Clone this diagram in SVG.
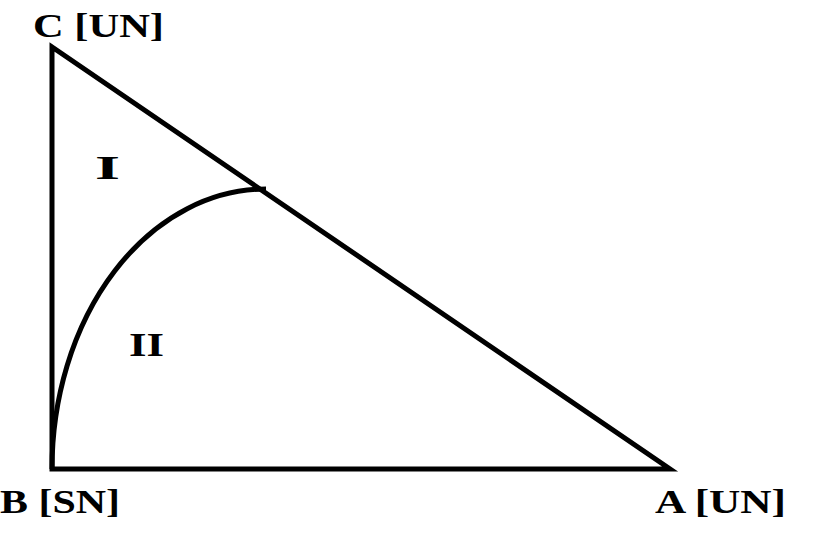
<svg xmlns="http://www.w3.org/2000/svg" width="828" height="536" viewBox="0 0 828 536">
<style>
.ln{fill:none;stroke:#000;stroke-width:5;stroke-linejoin:miter;stroke-miterlimit:10}
.lb{font-family:"Liberation Serif","Times New Roman",serif;font-weight:bold;font-size:34px;fill:#000}
</style>
<rect width="828" height="536" fill="#fff"/>
<g id="connectors">
<polygon class="ln" points="52,47 52,469 670,469"/>
<path class="ln" d="M52,469 A214 280 0 0 1 266,189"/>
</g>
<g id="node-C"><text class="lb" x="33" y="37" textLength="131" lengthAdjust="spacingAndGlyphs">C [UN]</text></g>
<g id="node-B"><text class="lb" x="0" y="513" textLength="120" lengthAdjust="spacingAndGlyphs">B [SN]</text></g>
<g id="node-A"><text class="lb" x="655" y="513" textLength="131" lengthAdjust="spacingAndGlyphs">A [UN]</text></g>
<g id="region-I"><text class="lb" x="95" y="179" textLength="25" lengthAdjust="spacingAndGlyphs">I</text></g>
<g id="region-II"><text class="lb" x="129" y="356" textLength="35" lengthAdjust="spacingAndGlyphs">II</text></g>
</svg>
